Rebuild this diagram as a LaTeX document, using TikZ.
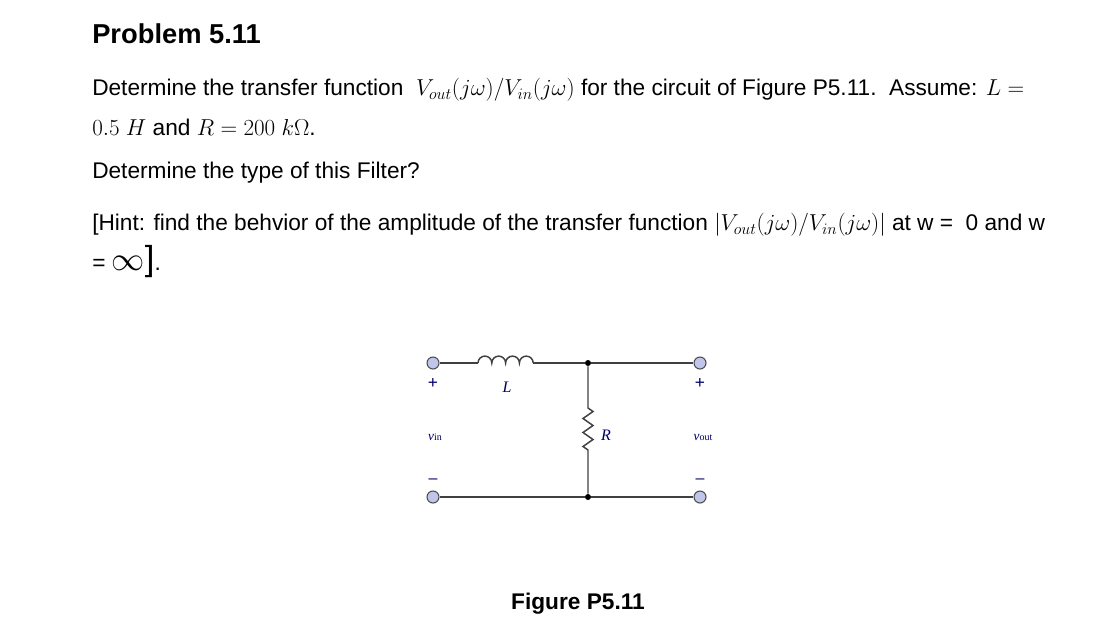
\documentclass[tikz,border=0pt]{standalone}
\usepackage{fontspec}
\setmainfont{Liberation Sans}
\newfontfamily\serifit{Liberation Serif}
\begin{document}
\begin{tikzpicture}[x=0.75pt,y=-0.75pt,
  txt/.style={anchor=west,inner sep=0pt,font=\fontsize{17pt}{20pt}\selectfont},
  term/.style={circle,draw=black!70,fill=cyan!35!blue!25,line width=0.8pt,minimum size=9pt,inner sep=0pt},
  dot/.style={circle,fill=black,minimum size=4.5pt,inner sep=0pt},
  wire/.style={line width=1.1pt,black!75},
  lab/.style={inner sep=0pt,font=\serifit\fontsize{10pt}{12pt}\selectfont,text=blue!40!black}]
\useasboundingbox (0,0) rectangle (1112,618);
\node[anchor=west,inner sep=0pt,font=\bfseries\fontsize{20.5pt}{24pt}\selectfont] (title) at (92,34) {Problem 5.11};
\node[txt] (l1) at (92,90) {Determine the transfer function\ \ $V_{out}(j\omega)/V_{in}(j\omega)$ for the circuit of Figure P5.11.\ \ Assume: $L=$};
\node[txt] (l2) at (92,127) {$0.5\ H$ and $R=200\ k\Omega$.};
\node[txt] (l3) at (92,173) {Determine the type of this Filter?};
\node[txt] (l4) at (92,225) {[Hint: find the behvior of the amplitude of the transfer function $|V_{out}(j\omega)/V_{in}(j\omega)|$ at w =\ \ 0 and w};
\node[txt] (l5) at (92,262) {= {\fontsize{26pt}{26pt}\selectfont$\infty$]}.};
% circuit
\node[term] (a) at (433,363) {};
\node[term] (b) at (433,497) {};
\node[term] (c) at (700,363) {};
\node[term] (d) at (700,497) {};
\node[dot] (j1) at (588,363) {};
\node[dot] (j2) at (588,497) {};
\coordinate (l0) at (478,363);
\coordinate (le) at (533,363);
\coordinate (r0) at (588,408);
\coordinate (re) at (588,450);
\draw[wire] (a) -- (l0);
\draw[wire] (l0) arc(180:360:6.9) arc(180:360:6.9) arc(180:360:6.9) arc(180:360:6.9);
\draw[wire] (le) -- (j1) -- (c);
\draw[wire] (j1) -- (r0) -- ++(5,3.5) -- ++(-10,7) -- ++(10,7) -- ++(-10,7) -- ++(10,7) -- ++(-10,7) -- (re) -- (j2);
\draw[wire,line width=1.6pt] (b) -- (j2) -- (d);
\node[lab,font=\fontsize{13pt}{13pt}\selectfont] at (433,383) {+};
\node[lab,font=\fontsize{13pt}{13pt}\selectfont] at (700,383) {+};
\node[lab,font=\fontsize{12pt}{12pt}\selectfont] at (433,481) {--};
\node[lab,font=\fontsize{12pt}{12pt}\selectfont] at (700,481) {--};
\node[lab,font=\serifit\itshape\fontsize{12pt}{12pt}\selectfont] at (507,387) {L};
\node[lab,font=\serifit\itshape\fontsize{12pt}{12pt}\selectfont] at (606,435) {R};
\node[lab] at (435,437) {\textit{v}\fontsize{7.5pt}{8pt}\selectfont in};
\node[lab] at (703,437) {\textit{v}\fontsize{7.5pt}{8pt}\selectfont out};
\node[inner sep=0pt,font=\bfseries\fontsize{17pt}{20pt}\selectfont] (fig) at (578,604) {Figure P5.11};
\end{tikzpicture}
\end{document}
